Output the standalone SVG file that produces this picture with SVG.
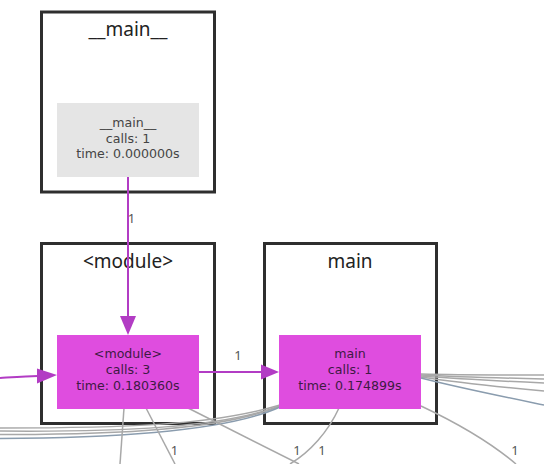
<svg xmlns="http://www.w3.org/2000/svg" width="544" height="464" viewBox="0 0 544 464">
<style>
.cluster{fill:#ffffff;stroke:#2e2e2e;stroke-width:3}
.ctitle{font-family:"Noto Sans",sans-serif;font-size:19px;fill:#222;text-anchor:middle}
.ntext{font-family:"DejaVu Sans",sans-serif;font-size:12.6px;text-anchor:middle}
.grey rect{fill:#e5e5e5}
.grey text{fill:#444}
.hot rect{fill:#df4ddf}
.hot text{fill:#3e1a44}
.elabel{font-family:"Noto Sans",sans-serif;font-size:13px;fill:#555;text-anchor:middle}
.e-hot{fill:none;stroke:#b23cc4;stroke-width:2}
.e-grey{fill:none;stroke:#a8a8a8;stroke-width:1.5}
.e-blue{fill:none;stroke:#8a9cae;stroke-width:1.5}
.ah{fill:#b23cc4}
</style>
<rect width="544" height="464" fill="#ffffff"/>
<g id="cluster-__main__">
<rect class="cluster" x="41.5" y="12" width="173" height="180"/>
<text class="ctitle" x="128" y="36">__main__</text>
</g>
<g id="cluster-module">
<rect class="cluster" x="41.5" y="243.5" width="173" height="180"/>
<text class="ctitle" x="128" y="268">&lt;module&gt;</text>
</g>
<g id="cluster-main">
<rect class="cluster" x="264.5" y="243.5" width="172" height="180"/>
<text class="ctitle" x="350" y="268">main</text>
</g>
<g id="connectors">
<path class="e-grey" d="M0,428 C120,428 210,426 280,405"/>
<path class="e-grey" d="M0,431 C120,432 220,428 280,406"/>
<path class="e-grey" d="M0,434.5 C120,435 225,429 280,406"/>
<path class="e-blue" d="M0,438.5 C120,438 230,430 280,407"/>
<path class="e-grey" d="M124,408 L120,464"/>
<path class="e-grey" d="M146,408 L175,464"/>
<path class="e-grey" d="M188,408 L299,464"/>
<path class="e-grey" d="M339,408 C328,432 310,452 290,464"/>
<path class="e-grey" d="M421,374 C460,375 500,375 544,375"/>
<path class="e-grey" d="M421,375 C460,377 500,378 544,379"/>
<path class="e-grey" d="M421,376 C460,379 500,381 544,383"/>
<path class="e-grey" d="M421,377 C460,383 500,387 544,391"/>
<path class="e-blue" d="M421,378 C460,388 500,396 544,405"/>
<path class="e-grey" d="M421,406 C455,422 490,442 516,464"/>
<path class="e-hot" d="M128,177 L128,317"/>
<polygon class="ah" points="120,316 136,316 128,335"/>
<path class="e-hot" d="M199,372 L262,372"/>
<polygon class="ah" points="261,364.5 261,379.5 279,372"/>
<path class="e-hot" stroke="#b35cbf" d="M0,378 C15,377 28,376 38,376"/>
<polygon class="ah" points="37,368.5 37,383.5 57,375"/>
<text class="elabel" x="131.5" y="223">1</text>
<text class="elabel" x="238" y="360">1</text>
<text class="elabel" x="174.5" y="455">1</text>
<text class="elabel" x="297" y="455">1</text>
<text class="elabel" x="322" y="455">1</text>
<text class="elabel" x="515" y="455">1</text>
</g>
<g id="node-__main__" class="grey">
<rect x="57" y="103" width="142" height="74"/>
<text class="ntext" x="128" y="127">__main__</text>
<text class="ntext" x="128" y="142.5">calls: 1</text>
<text class="ntext" x="128" y="158">time: 0.000000s</text>
</g>
<g id="node-module" class="hot">
<rect x="57" y="335" width="142" height="74"/>
<text class="ntext" x="128" y="358">&lt;module&gt;</text>
<text class="ntext" x="128" y="374">calls: 3</text>
<text class="ntext" x="128" y="390">time: 0.180360s</text>
</g>
<g id="node-main" class="hot">
<rect x="279" y="335" width="142" height="74"/>
<text class="ntext" x="350" y="358">main</text>
<text class="ntext" x="350" y="374">calls: 1</text>
<text class="ntext" x="350" y="390">time: 0.174899s</text>
</g>
</svg>
